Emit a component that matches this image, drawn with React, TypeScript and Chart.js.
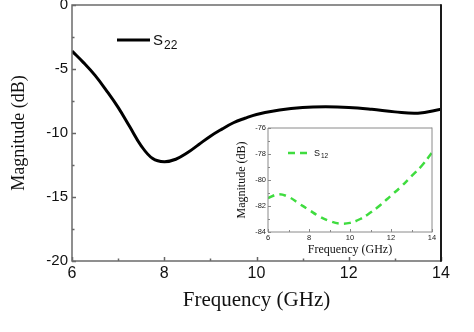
import React, { useEffect, useRef } from 'react';
import { Chart, registerables } from 'chart.js';
Chart.register(...registerables);

// ---- Data ----
const s22Freq = [6.0, 6.25, 6.5, 6.75, 7.0, 7.25, 7.5, 7.75, 8.0, 8.25, 8.5, 8.75, 9.0, 9.25, 9.5, 9.75, 10.0, 10.5, 11.0, 11.5, 12.0, 12.5, 13.0, 13.5, 14.0];
const s22Mag = [-3.6, -4.5, -5.5, -6.7, -8.0, -9.5, -11.0, -12.0, -12.25, -12.05, -11.55, -10.9, -10.25, -9.7, -9.2, -8.85, -8.55, -8.2, -8.0, -7.95, -8.0, -8.15, -8.35, -8.45, -8.15];

const s12Freq = [6.0, 6.5, 7.0, 7.5, 8.0, 8.5, 9.0, 9.5, 10.0, 10.5, 11.0, 11.5, 12.0, 12.5, 13.0, 13.5, 14.0];
const s12Mag = [-81.4, -81.1, -81.3, -81.8, -82.3, -82.8, -83.15, -83.35, -83.3, -83.0, -82.5, -81.9, -81.2, -80.5, -79.7, -78.9, -77.9];

const mainXRange = [6, 14];
const mainYRange = [-20, 0];
const mainXStep = 2;
const mainYStep = 5;
const insetXRange = [6, 14];
const insetYRange = [-84, -76];
const insetXStep = 2;
const insetYStep = 2;

const xTitle = 'Frequency (GHz)';
const yTitle = 'Magnitude (dB)';
const s22Label = ['S', '22'];
const s12Label = ['S', '12'];

const SERIF = "'Liberation Serif', 'Times New Roman', serif";
const SANS = "'Liberation Sans', Arial, sans-serif";

function frameTicksPlugin(cfg: any) {
  return {
    id: 'frameTicks',
    afterDatasetsDraw(chart: any) {
      const { ctx, chartArea: a, scales } = chart;
      ctx.save();
      ctx.strokeStyle = cfg.tickColor;
      ctx.lineWidth = cfg.tickWidth;
      const xs = scales.x;
      const ys = scales.y;
      const xt = xs.ticks.map((t: any) => t.value);
      const yt = ys.ticks.map((t: any) => t.value);
      const drawX = (v: number, len: number) => {
        const px = Math.round(xs.getPixelForValue(v)) + 0.5;
        ctx.beginPath();
        ctx.moveTo(px, a.bottom);
        ctx.lineTo(px, a.bottom - len);
        ctx.stroke();
      };
      const drawY = (v: number, len: number) => {
        const py = Math.round(ys.getPixelForValue(v)) + 0.5;
        ctx.beginPath();
        ctx.moveTo(a.left, py);
        ctx.lineTo(a.left + len, py);
        ctx.stroke();
      };
      xt.forEach((v: number, i: number) => {
        drawX(v, cfg.major);
        if (i < xt.length - 1) drawX((v + xt[i + 1]) / 2, cfg.minor);
      });
      yt.forEach((v: number, i: number) => {
        drawY(v, cfg.major);
        if (i < yt.length - 1) drawY((v + yt[i + 1]) / 2, cfg.minor);
      });
      ctx.lineWidth = cfg.frameWidth;
      ctx.strokeStyle = cfg.frameColor;
      ctx.beginPath();
      ctx.moveTo(a.right, a.top);
      ctx.lineTo(a.left, a.top);
      ctx.lineTo(a.left, a.bottom);
      ctx.lineTo(a.right, a.bottom);
      ctx.stroke();
      ctx.lineWidth = cfg.rightWidth;
      ctx.strokeStyle = cfg.rightColor;
      ctx.beginPath();
      ctx.moveTo(a.right, a.top - cfg.frameWidth / 2);
      ctx.lineTo(a.right, a.bottom + cfg.frameWidth / 2);
      ctx.stroke();
      const L = cfg.legend;
      ctx.strokeStyle = L.color;
      ctx.lineWidth = L.width;
      ctx.setLineDash(L.dash);
      ctx.beginPath();
      ctx.moveTo(a.left + L.x0, a.top + L.y);
      ctx.lineTo(a.left + L.x1, a.top + L.y);
      ctx.stroke();
      ctx.setLineDash([]);
      ctx.fillStyle = '#111';
      ctx.textBaseline = 'alphabetic';
      ctx.textAlign = 'left';
      ctx.font = `${L.font}px ${SANS}`;
      const tx = a.left + L.tx;
      ctx.fillText(L.text[0], tx, a.top + L.base);
      const w = ctx.measureText(L.text[0]).width;
      ctx.font = `${L.subFont}px ${SANS}`;
      ctx.fillText(L.text[1], tx + w + 1, a.top + L.base + L.subDrop);
      ctx.restore();
    },
  };
}

function fixBox(width?: number, height?: number) {
  return (scale: any) => {
    if (width !== undefined) scale.width = width;
    if (height !== undefined) scale.height = height;
    scale.paddingTop = 0;
    scale.paddingBottom = 0;
    scale.paddingLeft = 0;
    scale.paddingRight = 0;
  };
}

export default function App() {
  const mainRef = useRef<HTMLCanvasElement>(null);
  const insetRef = useRef<HTMLCanvasElement>(null);

  useEffect(() => {
    document.body.style.margin = '0';
    const main = new Chart(mainRef.current!, {
      type: 'line',
      data: {
        datasets: [
          {
            data: s22Freq.map((f, i) => ({ x: f, y: s22Mag[i] })),
            borderColor: '#000',
            borderWidth: 3,
            pointRadius: 0,
            tension: 0.4,
            fill: false,
          },
        ],
      },
      options: {
        responsive: false,
        animation: false,
        layout: { padding: { top: 5, right: 33, left: 0, bottom: 0 } },
        plugins: { legend: { display: false }, tooltip: { enabled: false } },
        scales: {
          x: {
            type: 'linear',
            min: mainXRange[0],
            max: mainXRange[1],
            grid: { display: false, drawTicks: false },
            border: { display: false },
            afterFit: fixBox(undefined, 71),
            ticks: {
              stepSize: mainXStep,
              padding: 3,
              color: '#111',
              font: { family: SANS, size: 16 },
              maxRotation: 0,
            },
            title: {
              display: true,
              text: xTitle,
              color: '#111',
              font: { family: SERIF, size: 21 },
              padding: { top: 0, bottom: 19 },
            },
          },
          y: {
            type: 'linear',
            min: mainYRange[0],
            max: mainYRange[1],
            grid: { display: false, drawTicks: false },
            border: { display: false },
            afterFit: fixBox(72, undefined),
            ticks: {
              stepSize: mainYStep,
              padding: 4,
              color: '#111',
              font: { family: SANS, size: 15 },
            },
            title: {
              display: true,
              text: yTitle,
              color: '#111',
              font: { family: SERIF, size: 18 },
              padding: { top: 8, bottom: 0 },
            },
          },
        },
      },
      plugins: [
        frameTicksPlugin({
          tickColor: '#666',
          tickWidth: 1.5,
          major: 4,
          minor: 2.5,
          frameColor: '#6b6b6b',
          frameWidth: 1.5,
          rightColor: '#1a1a1a',
          rightWidth: 2,
          legend: {
            color: '#000',
            width: 3,
            dash: [],
            x0: 45,
            x1: 78,
            y: 35,
            tx: 81,
            base: 40,
            font: 15,
            subFont: 12,
            subDrop: 4,
            text: s22Label,
          },
        }),
      ],
    } as any);

    const inset = new Chart(insetRef.current!, {
      type: 'line',
      data: {
        datasets: [
          {
            data: s12Freq.map((f, i) => ({ x: f, y: s12Mag[i] })),
            borderColor: '#3fdc3f',
            borderWidth: 2.5,
            borderDash: [7, 5],
            pointRadius: 0,
            tension: 0.4,
            fill: false,
          },
        ],
      },
      options: {
        responsive: false,
        animation: false,
        layout: { padding: { top: 8, right: 8, left: 0, bottom: 0 } },
        plugins: { legend: { display: false }, tooltip: { enabled: false } },
        scales: {
          x: {
            type: 'linear',
            min: insetXRange[0],
            max: insetXRange[1],
            grid: { display: false, drawTicks: false },
            border: { display: false },
            afterFit: fixBox(undefined, 28),
            ticks: {
              stepSize: insetXStep,
              padding: 1,
              color: '#222',
              font: { family: SANS, size: 7.5 },
              maxRotation: 0,
            },
            title: {
              display: true,
              text: xTitle,
              color: '#111',
              font: { family: SERIF, size: 12 },
              padding: { top: 0, bottom: 3 },
            },
          },
          y: {
            type: 'linear',
            min: insetYRange[0],
            max: insetYRange[1],
            grid: { display: false, drawTicks: false },
            border: { display: false },
            afterFit: fixBox(42, undefined),
            ticks: {
              stepSize: insetYStep,
              padding: 2,
              color: '#222',
              font: { family: SANS, size: 7.5 },
            },
            title: {
              display: true,
              text: yTitle,
              color: '#111',
              font: { family: SERIF, size: 12 },
              padding: { top: 9, bottom: 0 },
            },
          },
        },
      },
      plugins: [
        frameTicksPlugin({
          tickColor: '#888',
          tickWidth: 1,
          major: 3,
          minor: 2,
          frameColor: '#8a8a8a',
          frameWidth: 1,
          rightColor: '#8a8a8a',
          rightWidth: 1,
          legend: {
            color: '#3fdc3f',
            width: 2.5,
            dash: [7, 5],
            x0: 20,
            x1: 43,
            y: 25,
            tx: 46,
            base: 28,
            font: 9,
            subFont: 6.5,
            subDrop: 2,
            text: s12Label,
          },
        }),
      ],
    } as any);

    return () => {
      main.destroy();
      inset.destroy();
    };
  }, []);

  return (
    <div style={{ position: 'fixed', left: 0, top: 0, width: 474, height: 332, background: '#fff' }}>
      <canvas ref={mainRef} width={474} height={332} style={{ position: 'absolute', left: 0, top: 0 }} />
      <canvas ref={insetRef} width={214} height={140} style={{ position: 'absolute', left: 226, top: 120 }} />
    </div>
  );
}
